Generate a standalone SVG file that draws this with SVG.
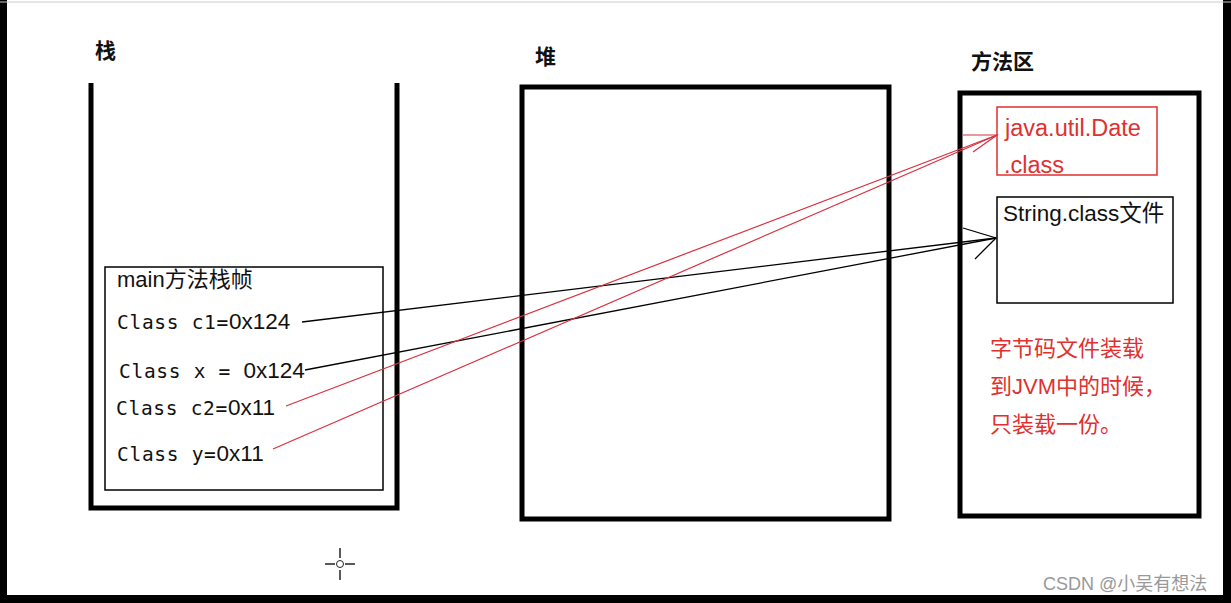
<svg xmlns="http://www.w3.org/2000/svg" width="1231" height="603" viewBox="0 0 1231 603">
<style>
.t{font-family:"Liberation Sans","Noto Sans CJK SC",sans-serif;fill:#111}
.h{font-family:"Noto Sans CJK SC",sans-serif;font-size:21px;font-weight:bold;fill:#111}
.m{font-family:"DejaVu Sans Mono",monospace;font-size:19.5px;letter-spacing:0.7px;fill:#111}
.n{font-family:"Liberation Sans",sans-serif;font-size:22.5px;fill:#111;letter-spacing:0}
.r{font-family:"Liberation Sans","Noto Sans CJK SC",sans-serif;fill:#e03030}
.thick{fill:none;stroke:#000;stroke-width:5}
.thin{fill:none;stroke:#000;stroke-width:1.5}
.bl{stroke:#000;stroke-width:1.3;fill:none}
.rl{stroke:#d83040;stroke-width:1.2;fill:none}
</style>
<rect x="0" y="0" width="1231" height="603" fill="#fff"/>
<g id="frame">
<rect x="0" y="0" width="7" height="603" fill="#000"/>
<rect x="0" y="595" width="1231" height="8" fill="#000"/>
<rect x="1223" y="0" width="8" height="603" fill="#000"/>
<line x1="0" y1="2" x2="1231" y2="2" stroke="#ccc" stroke-width="1"/>
</g>
<g id="stack">
<path class="thick" d="M91,83 V508 H397 V83"/>
<text class="h" x="95" y="58">栈</text>
</g>
<g id="heap">
<rect class="thick" x="522" y="87" width="367" height="432"/>
<text class="h" x="535" y="64">堆</text>
</g>
<g id="method-area">
<rect class="thick" x="960" y="93" width="239" height="423"/>
<text class="h" x="971" y="69" font-size="22">方法区</text>
</g>
<g id="date-class">
<rect x="997" y="107" width="160" height="68" fill="none" stroke="#e03030" stroke-width="1.5"/>
<text class="r" x="1005" y="136" font-size="23.5">java.util.Date</text>
<text class="r" x="1004" y="173" font-size="23.5">.class</text>
</g>
<g id="string-class">
<rect class="thin" x="997" y="197" width="176" height="106"/>
<text class="t" x="1003" y="221" font-size="22.5">String.class文件</text>
</g>
<g id="note">
<text class="r" x="990" y="356" font-size="22">字节码文件装载</text>
<text class="r" x="990" y="394" font-size="22">到JVM中的时候，</text>
<text class="r" x="990" y="432" font-size="22">只装载一份。</text>
</g>
<g id="main-frame">
<rect class="thin" x="105" y="267" width="278" height="223"/>
<text class="t" x="117" y="287" font-size="22">main方法栈帧</text>
<text x="117" y="329"><tspan class="m">Class c1=</tspan><tspan class="n">0x124</tspan></text>
<text x="119" y="378"><tspan class="m">Class x = </tspan><tspan class="n">0x124</tspan></text>
<text x="116" y="415"><tspan class="m">Class c2=</tspan><tspan class="n">0x11</tspan></text>
<text x="117" y="461"><tspan class="m">Class y=</tspan><tspan class="n">0x11</tspan></text>
</g>
<g id="connectors">
<line class="bl" x1="302" y1="322" x2="996" y2="238"/>
<line class="bl" x1="305" y1="370" x2="996" y2="238"/>
<path class="bl" d="M963,228 L996,238 L975,259"/>
<line class="rl" x1="286" y1="406" x2="997" y2="135"/>
<line class="rl" x1="273" y1="449" x2="997" y2="135"/>
<path class="rl" d="M963,135 L982,135 L997,135 L973,152"/>
</g>
<g id="cursor" stroke="#222" stroke-width="1.5" fill="none">
<line x1="340" y1="548" x2="340" y2="558"/>
<line x1="340" y1="570" x2="340" y2="580"/>
<line x1="325" y1="564" x2="335" y2="564"/>
<line x1="345" y1="564" x2="355" y2="564"/>
<circle cx="340" cy="564" r="3.5" stroke-width="1"/>
</g>
<text x="1043" y="590" font-family="Liberation Sans,Noto Sans CJK SC,sans-serif" font-size="18" fill="#999">CSDN @小吴有想法</text>
</svg>
